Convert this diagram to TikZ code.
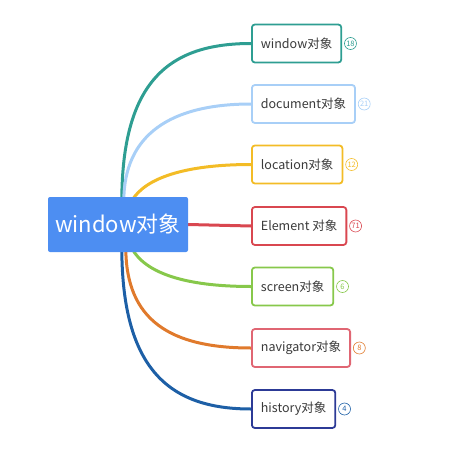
\documentclass[tikz,border=0pt]{standalone}
\usepackage{fontspec}
\setmainfont{Noto Sans CJK SC}
\usetikzlibrary{backgrounds}
\definecolor{cteal}{HTML}{2E9E92}
\definecolor{clblue}{HTML}{A8CFF7}
\definecolor{cyellow}{HTML}{F3BC26}
\definecolor{cred}{HTML}{D94750}
\definecolor{cgreen}{HTML}{87C84B}
\definecolor{cpink}{HTML}{E06673}
\definecolor{corange}{HTML}{E07A2C}
\definecolor{cnavy}{HTML}{2C3A96}
\definecolor{cdblue}{HTML}{1D5FA6}
\definecolor{croot}{HTML}{4D8EF2}
\definecolor{ctext}{HTML}{3A3A3A}
\tikzset{
  rootbox/.style={fill=croot, rounded corners=2pt, text=white, font=\fontsize{22}{24}\selectfont, minimum width=140pt, minimum height=55pt, inner sep=0pt},
  childbox/.style={fill=white, rounded corners=3pt, line width=1.8pt, text=ctext, font=\fontsize{12.5}{14}\selectfont, minimum height=38pt, inner xsep=9pt, anchor=west},
  badge/.style={circle, line width=0.6pt, minimum size=12pt, inner sep=0pt, font=\fontsize{7.5}{8}\selectfont, anchor=west},
  conn/.style={line width=3pt}
}
\begin{document}
\begin{tikzpicture}[x=1pt,y=-1pt]
\useasboundingbox (0,0) rectangle (454,455);
\node[rootbox] (root) at (118,224.5) {window对象};
\node[childbox, draw=cteal] (c1) at (251,43.5) {window对象};
\node[childbox, draw=clblue] (c2) at (251,104) {document对象};
\node[childbox, draw=cyellow] (c3) at (251,164.5) {location对象};
\node[childbox, draw=cred] (c4) at (251,226) {Element 对象};
\node[childbox, draw=cgreen] (c5) at (251,286.5) {screen对象};
\node[childbox, draw=cpink] (c6) at (251,348) {navigator对象};
\node[childbox, draw=cnavy] (c7) at (251,409) {history对象};
\node[badge, draw=cteal, text=cteal] (b1) at ([xshift=2pt]c1.east) {18};
\node[badge, draw=clblue, text=clblue] (b2) at ([xshift=2pt]c2.east) {21};
\node[badge, draw=cyellow, text=cyellow] (b3) at ([xshift=2pt]c3.east) {12};
\node[badge, draw=cred, text=cred] (b4) at ([xshift=2pt]c4.east) {71};
\node[badge, draw=cgreen, text=cgreen] (b5) at ([xshift=2pt]c5.east) {6};
\node[badge, draw=corange, text=corange] (b6) at ([xshift=2pt]c6.east) {8};
\node[badge, draw=cdblue, text=cdblue] (b7) at ([xshift=2pt]c7.east) {4};
\begin{scope}[on background layer]
\draw[conn, cteal] ([xshift=74pt,yshift=-4pt]root.north west) .. controls (122,80) and (170,43.5) .. (c1.west);
\draw[conn, clblue] ([xshift=76pt,yshift=-4pt]root.north west) .. controls (124,135) and (170,104) .. (c2.west);
\draw[conn, cyellow] ([xshift=84pt,yshift=-4pt]root.north west) .. controls (145,178) and (185,164.5) .. (c3.west);
\draw[conn, cred] (root.east) -- (c4.west);
\draw[conn, cgreen] ([xshift=84pt,yshift=4pt]root.south west) .. controls (145,273) and (185,286.5) .. (c5.west);
\draw[conn, corange] ([xshift=78pt,yshift=4pt]root.south west) .. controls (126,320) and (170,348) .. (c6.west);
\draw[conn, cdblue] ([xshift=74pt,yshift=4pt]root.south west) .. controls (122,370) and (170,409) .. (c7.west);
\end{scope}
\end{tikzpicture}
\end{document}
